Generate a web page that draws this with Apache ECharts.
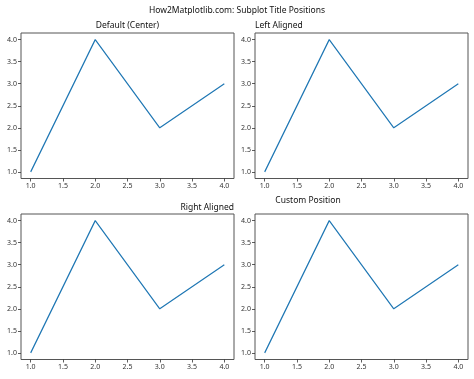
<!DOCTYPE html>
<html><head><meta charset="utf-8">
<script src="https://cdn.jsdelivr.net/npm/echarts@6/dist/echarts.min.js"></script>
<style>html,body{margin:0;padding:0;background:#fff}#c{width:474px;height:379px}</style>
</head><body><div id="c"></div>
<script>
const xValues = [1, 2, 3, 4];
const yValues = [1, 4, 2, 3];
const tickValues = [1.0, 1.5, 2.0, 2.5, 3.0, 3.5, 4.0];
const suptitle = 'How2Matplotlib.com: Subplot Title Positions';
const subTitles = ['Default (Center)', 'Left Aligned', 'Right Aligned', 'Custom Position'];

const FONT = 'Noto Sans';
const grids = [
  {left: 21, top: 33, width: 213, height: 145.5},
  {left: 255, top: 33, width: 213, height: 145.5},
  {left: 21, top: 214, width: 213, height: 145.5},
  {left: 255, top: 214, width: 213, height: 145.5}
];
const chart = echarts.init(document.getElementById('c'), null, {renderer: 'canvas'});
const axisCommon = (idx) => ({
  type: 'value', gridIndex: idx, min: 0.85, max: 4.15,
  splitLine: {show: false},
  axisLine: {show: false},
  axisTick: {show: true, inside: false, length: 3, lineStyle: {color: '#333', width: 0.8}, customValues: tickValues},
  axisLabel: {show: true, fontSize: 7, color: '#333', fontFamily: FONT, margin: 4,
    customValues: tickValues, formatter: v => v.toFixed(1)}
});
const option = {
  animation: false,
  grid: grids.map(g => Object.assign({show: true, borderColor: '#555', borderWidth: 1, backgroundColor: 'transparent'}, g)),
  xAxis: grids.map((g, i) => Object.assign(axisCommon(i), {position: 'bottom'})),
  yAxis: grids.map((g, i) => Object.assign(axisCommon(i), {position: 'left'})),
  series: grids.map((g, i) => ({
    type: 'line', xAxisIndex: i, yAxisIndex: i, symbol: 'none',
    lineStyle: {color: '#1f77b4', width: 1.2},
    data: xValues.map((x, k) => [x, yValues[k]])
  })),
  graphic: [
    {type: 'text', x: 237, y: 11, style: {text: suptitle, align: 'center', verticalAlign: 'middle', fontSize: 8.5, fontFamily: FONT, fill: '#111'}},
    {type: 'text', x: 127.5, y: 26, style: {text: subTitles[0], align: 'center', verticalAlign: 'middle', fontSize: 8.5, fontFamily: FONT, fill: '#111'}},
    {type: 'text', x: 255, y: 26, style: {text: subTitles[1], align: 'left', verticalAlign: 'middle', fontSize: 8.5, fontFamily: FONT, fill: '#111'}},
    {type: 'text', x: 234, y: 207.5, style: {text: subTitles[2], align: 'right', verticalAlign: 'middle', fontSize: 8.5, fontFamily: FONT, fill: '#111'}},
    {type: 'text', x: 308, y: 200.5, style: {text: subTitles[3], align: 'center', verticalAlign: 'middle', fontSize: 8.5, fontFamily: FONT, fill: '#111'}}
  ]
};
chart.setOption(option);
</script></body></html>
